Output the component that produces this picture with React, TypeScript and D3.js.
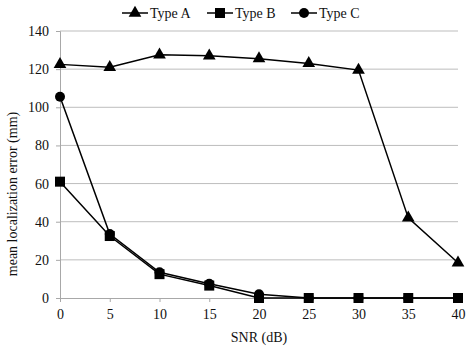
import React, { useEffect, useRef } from 'react';
import * as d3 from 'd3';

const snr = [0, 5, 10, 15, 20, 25, 30, 35, 40];
const typeA = [122.5, 121, 127.5, 127, 125.5, 123, 119.5, 42, 18.5];
const typeB = [61, 32.5, 12.5, 6.5, 0, 0, 0, 0, 0];
const typeC = [105.5, 33.5, 13.5, 7.5, 2, 0, 0, 0, 0];
const yTicks = [0, 20, 40, 60, 80, 100, 120, 140];
const seriesNames = ['Type A', 'Type B', 'Type C'];

const FONT = 'Liberation Serif';

export default function App() {
  const svgRef = useRef<SVGSVGElement>(null);

  useEffect(() => {
    if (!svgRef.current) return;
    const width = 474;
    const height = 351;
    const margin = { top: 31, right: 16, bottom: 53, left: 60 };

    const svg = d3.select(svgRef.current);
    svg.selectAll('*').remove();
    svg.attr('width', width).attr('height', height);

    const x = d3.scaleLinear().domain([0, 40]).range([margin.left, width - margin.right]);
    const y = d3.scaleLinear().domain([0, 140]).range([height - margin.bottom, margin.top]);

    // gridlines
    svg.append('g')
      .selectAll('line')
      .data(yTicks.filter(t => t > 0))
      .join('line')
      .attr('x1', margin.left).attr('x2', width - margin.right)
      .attr('y1', d => y(d)).attr('y2', d => y(d))
      .attr('stroke', '#bdbdbd').attr('stroke-width', 1);

    // axes
    const yAxis = svg.append('g')
      .attr('transform', `translate(${margin.left},0)`)
      .call(d3.axisLeft(y).tickValues(yTicks).tickSize(4).tickPadding(7));
    const xAxis = svg.append('g')
      .attr('transform', `translate(0,${y(0)})`)
      .call(d3.axisBottom(x).tickValues(snr).tickSize(4).tickPadding(7));
    [yAxis, xAxis].forEach(a => {
      a.attr('font-family', FONT).attr('font-size', 14);
      a.selectAll('path, line').attr('stroke', '#a8a8a8');
      a.selectAll('text').attr('font-family', FONT).attr('font-size', 14).attr('fill', '#111');
    });

    const line = d3.line<[number, number]>().x(d => x(d[0])).y(d => y(d[1]));
    const all = [typeA, typeB, typeC];
    const tri = d3.symbol().type(d3.symbolTriangle).size(70);

    const drawMarker = (g: any, kind: number, cx: number, cy: number) => {
      if (kind === 0) {
        g.append('path').attr('d', tri()).attr('transform', `translate(${cx},${cy})`).attr('fill', '#000');
      } else if (kind === 1) {
        g.append('rect').attr('x', cx - 5).attr('y', cy - 5).attr('width', 10).attr('height', 10).attr('fill', '#000');
      } else {
        g.append('circle').attr('cx', cx).attr('cy', cy).attr('r', 5).attr('fill', '#000');
      }
    };

    // draw C first, then B, then A
    [2, 1, 0].forEach(k => {
      const pts = snr.map((s, i) => [s, all[k][i]] as [number, number]);
      const g = svg.append('g');
      g.append('path').attr('d', line(pts)).attr('fill', 'none').attr('stroke', '#000').attr('stroke-width', 1.5);
      pts.forEach(p => drawMarker(g, k, x(p[0]), y(p[1])));
    });

    // legend
    const legendX = [122, 207, 291];
    seriesNames.forEach((name, k) => {
      const g = svg.append('g');
      const lx = legendX[k];
      g.append('line').attr('x1', lx).attr('x2', lx + 26).attr('y1', 13).attr('y2', 13)
        .attr('stroke', '#000').attr('stroke-width', 1.5);
      drawMarker(g, k, lx + 13, 13);
      g.append('text').attr('x', lx + 28).attr('y', 18)
        .attr('font-family', FONT).attr('font-size', 14).attr('fill', '#111').text(name);
    });

    // axis titles
    svg.append('text')
      .attr('x', 259).attr('y', 342)
      .attr('text-anchor', 'middle').attr('font-family', FONT).attr('font-size', 14).attr('fill', '#111')
      .text('SNR (dB)');
    svg.append('text')
      .attr('transform', `translate(17,194) rotate(-90)`)
      .attr('text-anchor', 'middle').attr('font-family', FONT).attr('font-size', 14).attr('fill', '#111')
      .text('mean localization error (mm)');

    // force text layout so the named font is resolved before the snapshot
    svg.selectAll<SVGTextElement, unknown>('text').each(function () {
      this.getComputedTextLength();
    });
  }, []);

  return <svg ref={svgRef} style={{ display: 'block', position: 'absolute', left: 0, top: 0 }}></svg>;
}
